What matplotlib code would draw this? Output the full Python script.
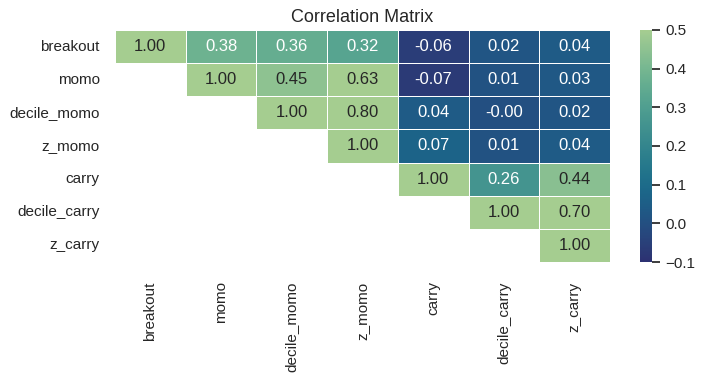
import numpy as np
import pandas as pd
import matplotlib
matplotlib.use("Agg")
import matplotlib.pyplot as plt
import seaborn as sns

labels = ["breakout", "momo", "decile_momo", "z_momo", "carry", "decile_carry", "z_carry"]
row_breakout = [1.00, 0.38, 0.36, 0.32, -0.06, 0.02, 0.04]
row_momo = [0.38, 1.00, 0.45, 0.63, -0.07, 0.01, 0.03]
row_decile_momo = [0.36, 0.45, 1.00, 0.80, 0.04, -0.00, 0.02]
row_z_momo = [0.32, 0.63, 0.80, 1.00, 0.07, 0.01, 0.04]
row_carry = [-0.06, -0.07, 0.04, 0.07, 1.00, 0.26, 0.44]
row_decile_carry = [0.02, 0.01, -0.00, 0.01, 0.26, 1.00, 0.70]
row_z_carry = [0.04, 0.03, 0.02, 0.04, 0.44, 0.70, 1.00]

corr = pd.DataFrame([row_breakout, row_momo, row_decile_momo, row_z_momo,
                     row_carry, row_decile_carry, row_z_carry],
                    index=labels, columns=labels)

sns.set_theme(style="white")
plt.rcParams['font.family'] = ['Liberation Sans', 'DejaVu Sans']

mask = np.tril(np.ones_like(corr, dtype=bool), k=-1)

W, H = 705, 375
fig = plt.figure(figsize=(7.05, 3.75), dpi=100)
ax = fig.add_axes([115 / W, (H - 262) / H, 495 / W, 232 / H])
cax = fig.add_axes([640 / W, (H - 262) / H, 12 / W, 232 / H])
sns.heatmap(corr, mask=mask, cmap="crest_r", vmin=-0.1, vmax=0.5,
            annot=True, fmt=".2f", linewidths=0.5, linecolor="white",
            ax=ax, cbar_ax=cax, annot_kws={"size": 12})
ax.set_title("Correlation Matrix", fontsize=13)
ax.tick_params(labelsize=11)
ax.tick_params(axis="x", pad=8)
ax.tick_params(axis="y", pad=5)
cax.tick_params(length=6, width=1.25, labelsize=11, color="#262626")
fig.savefig("out.png", dpi=100)
